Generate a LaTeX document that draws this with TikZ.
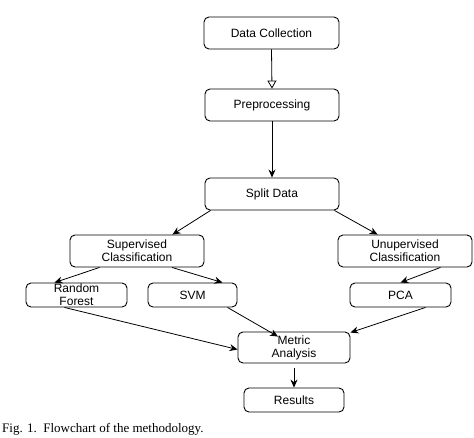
\documentclass[tikz,border=0pt]{standalone}
\usepackage{fontspec}
\setmainfont{Liberation Sans}
\newfontfamily\capfont{Liberation Serif}
\usetikzlibrary{arrows.meta}
\begin{document}
\begin{tikzpicture}[x=1pt,y=-1pt,
  box/.style={draw, line width=0.9pt, rounded corners=5pt, align=center, inner sep=0pt, font=\fontsize{12}{13}\selectfont},
  arr/.style={line width=0.8pt, -{Stealth[length=8pt,width=7pt]}},
  oarr/.style={line width=0.8pt, -{Triangle[open,length=8pt,width=9pt]}}]
\clip (0,0) rectangle (474,437);
\fill[white] (0,0) rectangle (474,437);
\node[box, minimum width=135pt, minimum height=32pt] (dc) at (271.5,33) {Data Collection};
\node[box, minimum width=134pt, minimum height=32pt] (pp) at (272,105) {Preprocessing};
\node[box, minimum width=134pt, minimum height=32pt] (sd) at (272,194) {Split Data};
\node[box, minimum width=134pt, minimum height=32pt] (sc) at (137,251) {Supervised\\Classification};
\node[box, minimum width=134pt, minimum height=32pt] (uc) at (405,251) {Unupervised\\Classification};
\node[box, minimum width=101pt, minimum height=24pt] (rf) at (76.5,295) {Random\\Forest};
\node[box, minimum width=89pt, minimum height=24pt] (svm) at (192.5,295) {SVM};
\node[box, minimum width=101pt, minimum height=24pt] (pca) at (400.5,295) {PCA};
\node[box, minimum width=112pt, minimum height=31pt] (ma) at (294,347.5) {Metric\\Analysis};
\node[box, minimum width=100pt, minimum height=24pt] (res) at (294,400) {Results};
\node[anchor=base west, inner sep=0pt, font=\capfont\fontsize{13}{15}\selectfont] (cap) at (2,432.5) {Fig. 1.\ \ Flowchart of the methodology.};
\draw[oarr] (dc.south) -- (pp.north);
\draw[arr] (pp.south) -- (sd.north);
\draw[arr] ([xshift=6pt]sd.south west) -- ([xshift=-32pt]sc.north east);
\draw[arr] ([xshift=-5pt]sd.south east) -- ([xshift=40pt]uc.north west);
\draw[arr] ([xshift=30pt]sc.south west) -- ([xshift=-22pt]rf.north);
\draw[arr] ([xshift=35pt]sc.south) -- ([xshift=30pt]svm.north);
\draw[arr] ([xshift=-32pt]uc.south east) -- ([xshift=0pt]pca.north);
\draw[arr] ([xshift=-12pt]rf.south) -- ([yshift=-2pt]ma.west);
\draw[arr] ([xshift=35pt]svm.south) -- ([xshift=-16pt,yshift=-5pt]ma.north);
\draw[arr] ([xshift=25pt]pca.south) -- ([yshift=-1pt]ma.north east);
\draw[arr] ([yshift=-5pt]ma.south) -- (res.north);
\end{tikzpicture}
\end{document}
